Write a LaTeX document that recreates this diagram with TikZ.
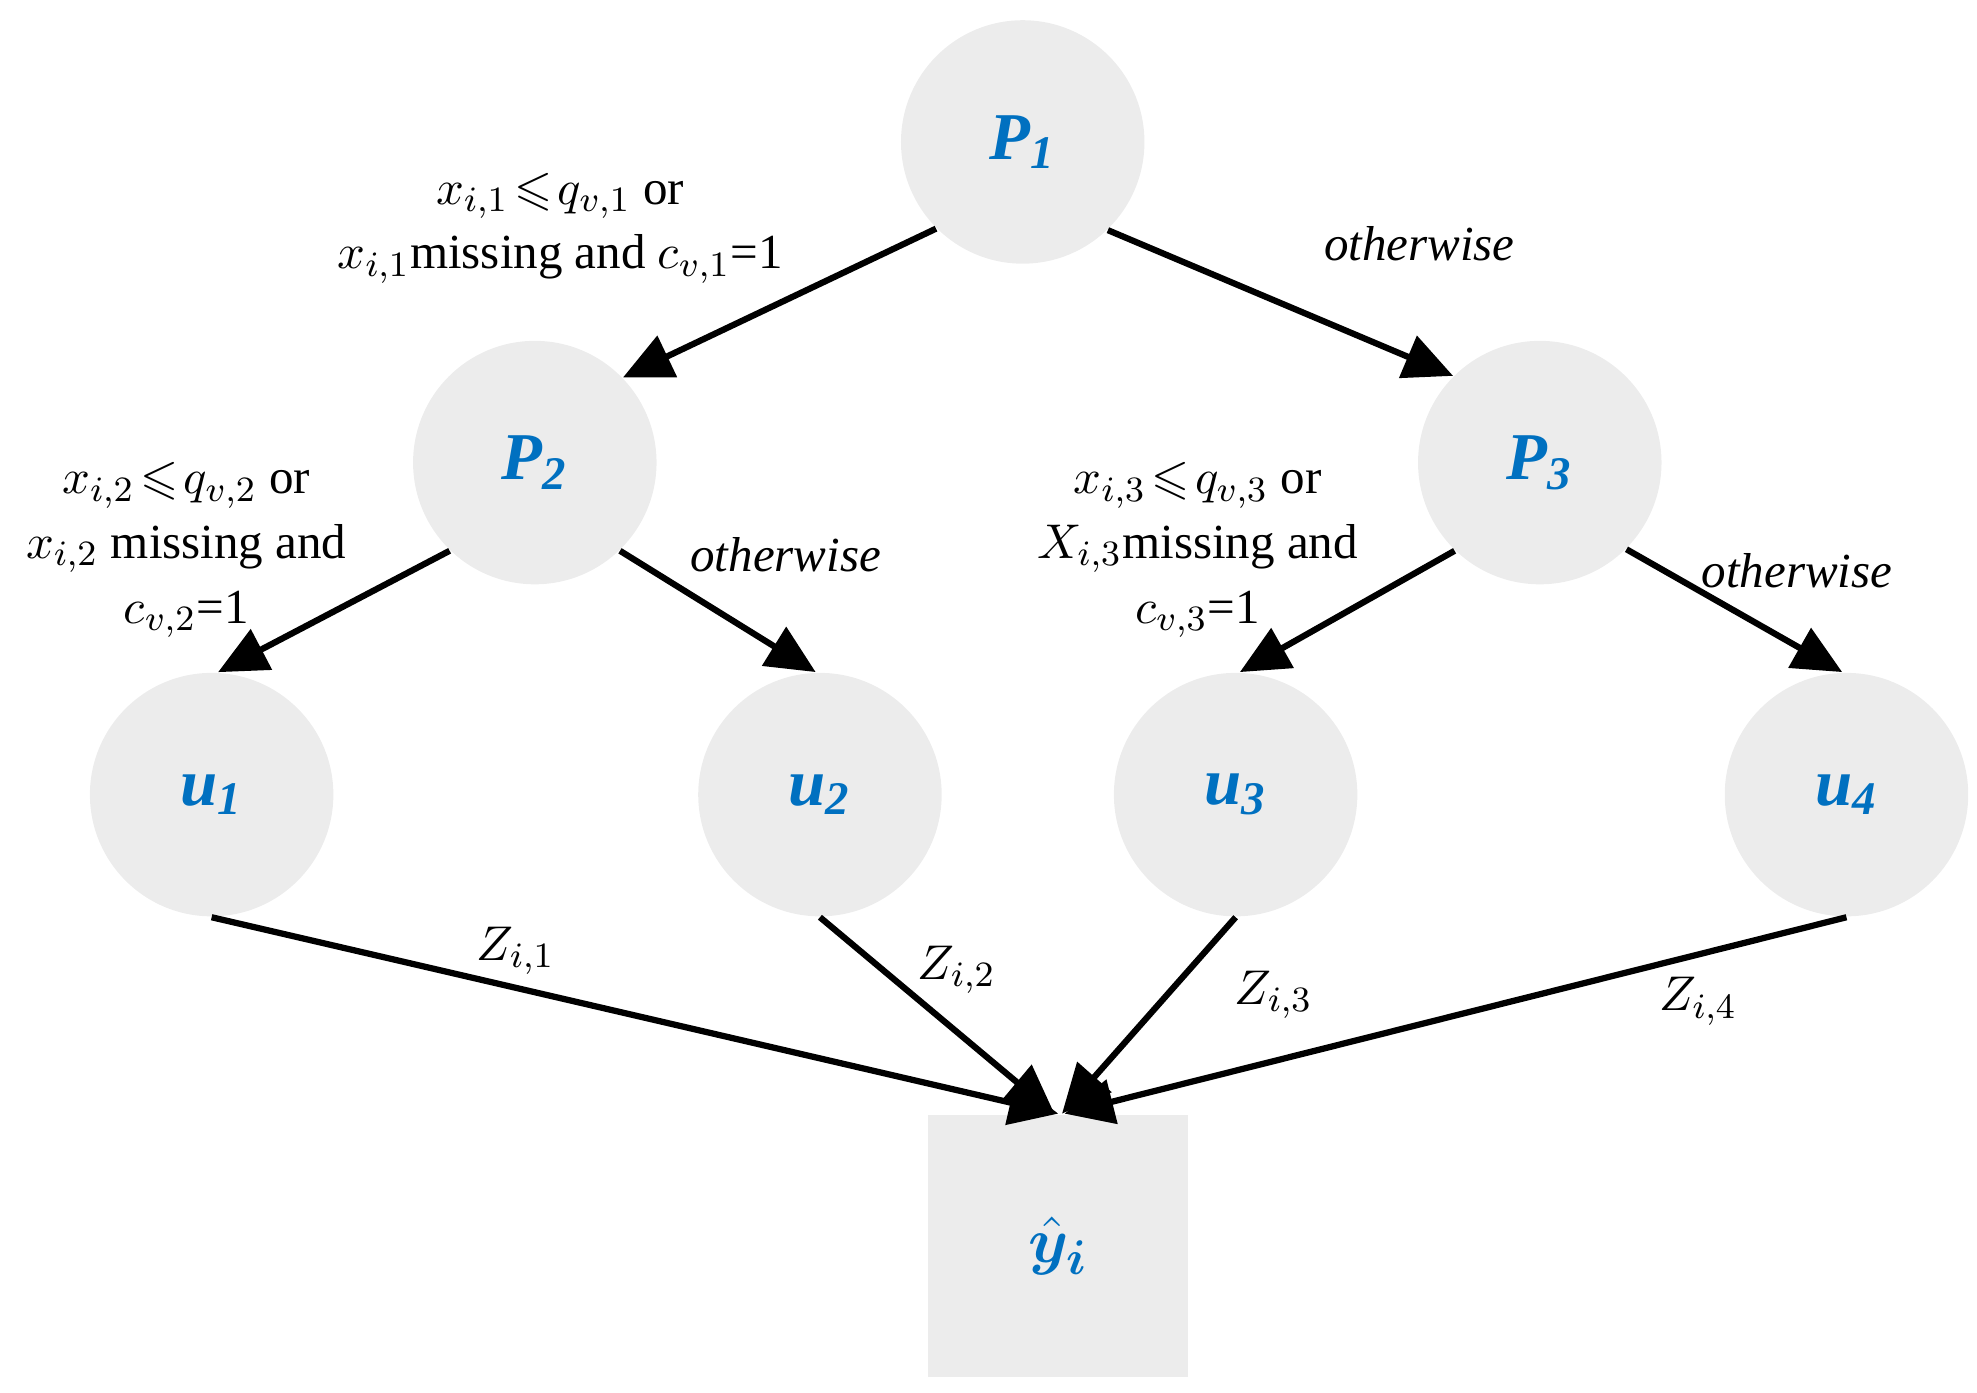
\documentclass[tikz,border=0pt]{standalone}
\usepackage{amsmath,amssymb,bm}
\usepackage{fontspec}
\setmainfont{Liberation Serif}
\usetikzlibrary{arrows.meta,calc}
\definecolor{nblue}{RGB}{0,112,192}
\definecolor{ngray}{RGB}{236,236,236}
\begin{document}
\begin{tikzpicture}[x=0.01cm,y=-0.01cm,
  circ/.style={circle,fill=ngray,minimum size=1.92cm,inner sep=0,font=\fontsize{15}{18}\selectfont\bfseries\itshape,text=nblue},
  arr/.style={line width=1.4pt,-{Triangle[length=11pt,width=10pt]}},
  lab/.style={font=\fontsize{11}{14.5}\selectfont,align=center}]
\useasboundingbox (0,0) rectangle (1560,1099);
\node[circ] (P1) at (807,112) {P\textsubscript{1}};
\node[circ] (P2) at (422,365) {P\textsubscript{2}};
\node[circ] (P3) at (1215,365) {P\textsubscript{3}};
\node[circ] (u1) at (167,627) {u\textsubscript{1}};
\node[circ] (u2) at (647,627) {u\textsubscript{2}};
\node[circ] (u3) at (975,627) {u\textsubscript{3}};
\node[circ] (u4) at (1457,627) {u\textsubscript{4}};
\node[fill=ngray,minimum width=2.05cm,minimum height=2.07cm,inner sep=0,font=\fontsize{15}{18}\selectfont\bfseries,text=nblue] (y) at (835,983) {$\bm{\hat{y}_i}$};
\draw[arr] (P1.225) -- (P2.44);
\draw[arr] (P1.314) -- (P3.135);
\draw[arr] (P2.226) -- (u1.87);
\draw[arr] (P2.314) -- (u2.92);
\draw[arr] (P3.226) -- (u3.88);
\draw[arr] (P3.315) -- (u4.92);
\draw[arr] (u1.south) -- ($(y.north)+(0,0)$);
\draw[arr] (u2.south) -- ($(y.north)+(-3,0)$);
\draw[arr] (u3.south) -- ($(y.north)+(3,0)$);
\draw[arr] (u4.south) -- ($(y.north)+(5,0)$);
\node[lab] (l1) at (442,180) {$x_{i,1}\!\leqslant\! q_{v,1}$ or\\$x_{i,1}$missing and $c_{v,1}$=1};
\node[lab] (o1) at (1120,192) {\textit{otherwise}};
\node[lab] (l2) at (147,434) {$x_{i,2}\!\leqslant\! q_{v,2}$ or\\$x_{i,2}$ missing and\\$c_{v,2}$=1};
\node[lab] (o2) at (620,438) {\textit{otherwise}};
\node[lab] (l3) at (945,434) {$x_{i,3}\!\leqslant\! q_{v,3}$ or\\$X_{i,3}$missing and\\$c_{v,3}$=1};
\node[lab] (o3) at (1418,450) {\textit{otherwise}};
\node[lab] (z1) at (407,750) {$Z_{i,1}$};
\node[lab] (z2) at (755,765) {$Z_{i,2}$};
\node[lab] (z3) at (1005,785) {$Z_{i,3}$};
\node[lab] (z4) at (1340,790) {$Z_{i,4}$};
\end{tikzpicture}
\end{document}
